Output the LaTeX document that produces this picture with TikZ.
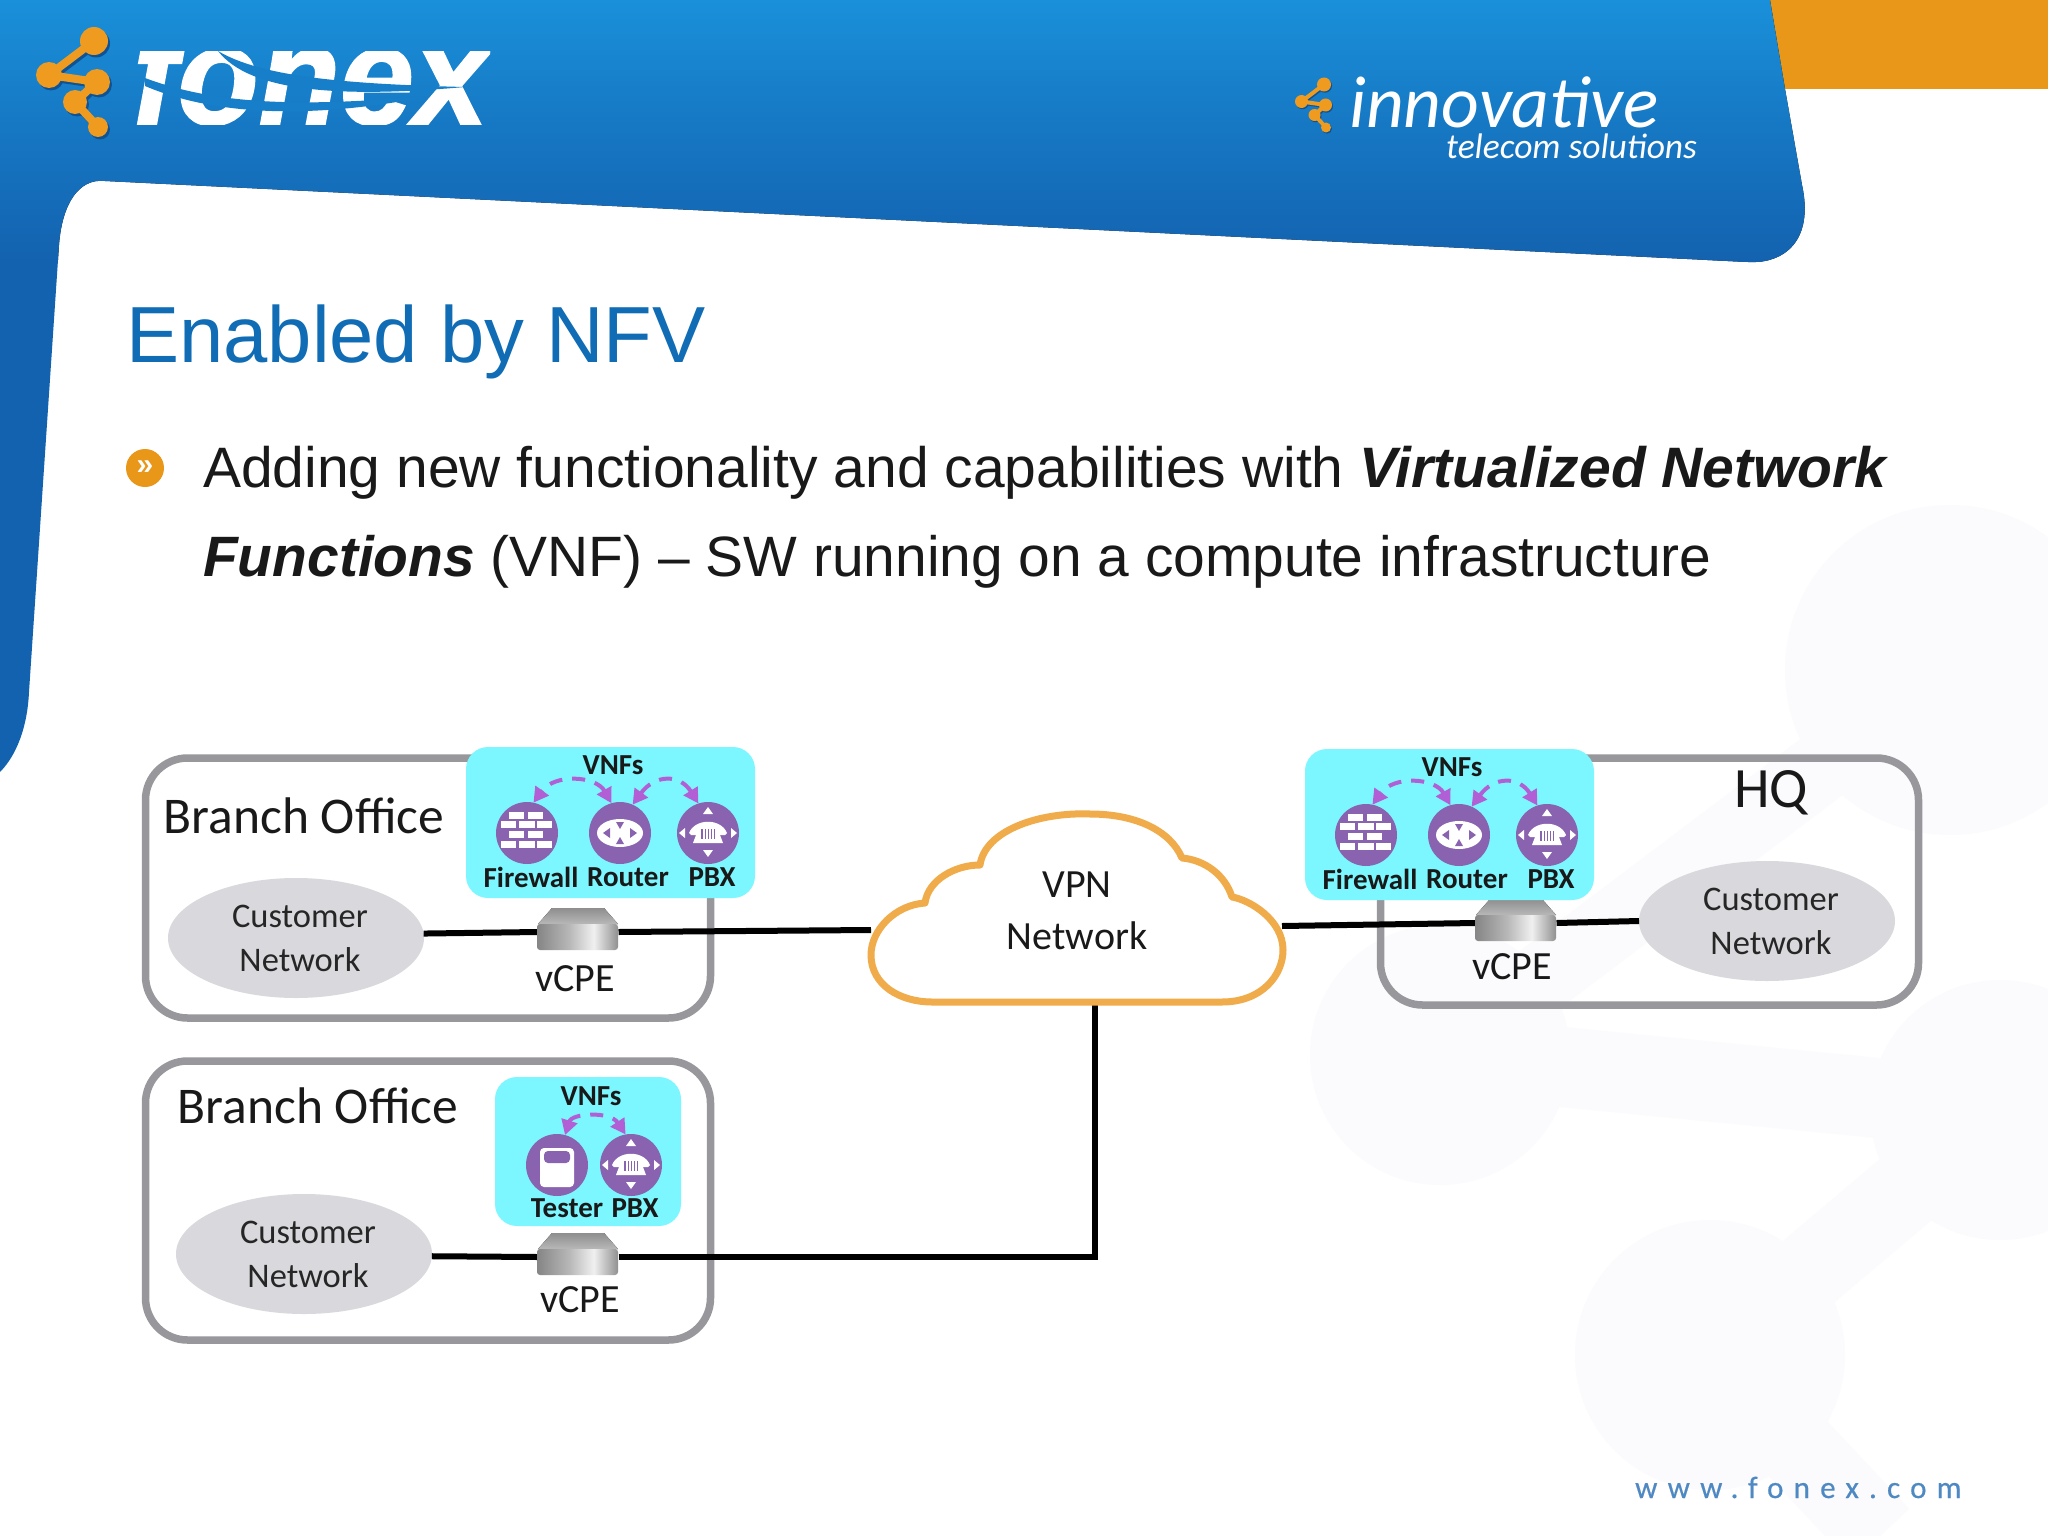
\documentclass[tikz,border=0pt]{standalone}
\usepackage{fontspec}
\setmainfont{Carlito}
\newfontfamily\arialf{Liberation Sans}
\usetikzlibrary{shapes.geometric,arrows.meta}
\definecolor{blueA}{HTML}{1A90DA}
\definecolor{blueB}{HTML}{1362AF}
\definecolor{orangeA}{HTML}{E99719}
\definecolor{logoO}{HTML}{EE9B20}
\definecolor{boxgray}{HTML}{98989C}
\definecolor{cyanbox}{HTML}{7CF7FF}
\definecolor{icon}{HTML}{8A63B0}
\definecolor{arrowp}{HTML}{B25FD6}
\definecolor{custgray}{HTML}{D9D8DC}
\definecolor{cloudO}{HTML}{F0AC4A}
\definecolor{titleblue}{HTML}{0F6CB5}
\definecolor{wm}{HTML}{FBFAFC}
\definecolor{devtopA}{HTML}{8E8E8E}
\definecolor{devtopB}{HTML}{B8B8B8}
\definecolor{devA}{HTML}{858585}
\definecolor{devB}{HTML}{B8B8B8}
\definecolor{devC}{HTML}{F0F0F0}
\definecolor{devD}{HTML}{909090}
\pgfdeclarehorizontalshading{devbody}{100bp}{color(0bp)=(devA); color(25bp)=(devA); color(45bp)=(devB); color(60bp)=(devC); color(75bp)=(devD); color(100bp)=(devD)}
\tikzset{
  officebox/.style={draw=boxgray,line width=7.5pt,rounded corners=42pt,inner sep=0pt,outer sep=0pt},
  vnfbox/.style={fill=cyanbox,rounded corners=22pt,inner sep=0pt,outer sep=0pt},
  custnet/.style={ellipse,fill=custgray,minimum width=256pt,minimum height=120pt,inner sep=0pt,outer sep=0pt,align=center,font=\fontsize{34.5}{44}\selectfont,text=black!85},
  iconc/.style={circle,fill=icon,minimum size=62pt,inner sep=0pt,outer sep=0pt},
  vnftext/.style={font=\bfseries\fontsize{29}{29}\selectfont,text=black!90,inner sep=0pt},
  lab/.style={font=\fontsize{40}{40}\selectfont,text=black!90,inner sep=0pt},
  blab/.style={font=\fontsize{51.5}{51.5}\selectfont,text=black!90,inner sep=0pt},
  wire/.style={line width=6pt,draw=black},
  vnfarrow/.style={draw=arrowp,line width=4pt,dash pattern=on 13pt off 10pt,{Triangle[length=15pt,width=16pt]}-{Triangle[length=15pt,width=16pt]}},
  devnode/.style={minimum width=81pt,minimum height=10pt,inner sep=0pt,outer sep=0pt}
}
\newcommand\device[2]{%
  \fill[top color=devtopA,bottom color=devtopB] (#1-40,#2-8) -- (#1-26,#2-24) -- (#1+26,#2-24) -- (#1+40,#2-8) -- cycle;
  \shade[shading=devbody,rounded corners=3pt] (#1-41,#2-8) rectangle (#1+40,#2+18);
}
\newcommand\fwicon[2]{\begin{scope}[shift={(#1,#2)},white]
  \foreach \yy in {-21,-2}{\fill (-18,\yy) rectangle (-3,\yy+7); \fill (1,\yy) rectangle (16,\yy+7);}
  \foreach \yy in {-12,8}{\fill (-26,\yy) rectangle (-11,\yy+7); \fill (-8,\yy) rectangle (8,\yy+7); \fill (10,\yy) rectangle (25,\yy+7);}
\end{scope}}
\newcommand\rticon[2]{\begin{scope}[shift={(#1,#2)}]
  \fill[white] (0,0) ellipse [x radius=23,y radius=14];
  \fill[icon] (-17,0) -- (-10,-5) -- (-10,5) -- cycle;
  \fill[icon] (17,0) -- (10,-5) -- (10,5) -- cycle;
  \fill[icon] (-4,-11) -- (4,-11) -- (0,-4) -- cycle;
  \fill[icon] (-4,11) -- (4,11) -- (0,4) -- cycle;
\end{scope}}
\newcommand\pbxicon[2]{\begin{scope}[shift={(#1,#2)}]
  \fill[white] (-19,0) .. controls (-13,-15) and (13,-15) .. (19,0) -- (17,2) -- (10,2) -- (9,-4) -- (-9,-4) -- (-10,2) -- (-17,2) -- cycle;
  \fill[white] (-9,-6) -- (9,-6) -- (15,10) -- (-15,10) -- cycle;
  \fill[icon] (-7,-4) rectangle (7,6);
  \foreach \xx in {-5,-2,1,4}{\fill[white] (\xx,-4) rectangle (\xx+1.5,6);}
  \fill[white] (0,-26) -- (-5,-19) -- (5,-19) -- cycle;
  \fill[white] (0,24) -- (-5,17) -- (5,17) -- cycle;
  \fill[white] (-29,0) -- (-23,-5) -- (-23,5) -- cycle;
  \fill[white] (29,0) -- (23,-5) -- (23,5) -- cycle;
\end{scope}}
\newcommand\testicon[2]{\begin{scope}[shift={(#1,#2)}]
  \fill[white,rounded corners=4pt] (-17,-17) rectangle (17,22);
  \fill[icon,rounded corners=4pt] (-13,-14) rectangle (13,-2);
\end{scope}}
\newcommand\threevnf[3]{\begin{scope}[shift={(#2,#3)}]
  \node[vnfbox,minimum width=289pt,minimum height=151pt] (#1box) at (610.5,822.5) {};
  \node[vnftext] (#1t) at (613,765) {VNFs};
  \node[iconc] (#1fw) at (527,833) {};
  \node[iconc] (#1rt) at (620,833) {};
  \node[iconc] (#1pb) at (708,833) {};
  \fwicon{527}{833}\rticon{620}{833}\pbxicon{708}{833}
  \node[vnftext] (#1l1) at (531,877) {Firewall};
  \node[vnftext] (#1l2) at (628,877) {Router};
  \node[vnftext] (#1l3) at (712,877) {PBX};
  \draw[vnfarrow] (#1rt.106) .. controls (596,776) and (555,773) .. (#1fw.78);
  \draw[vnfarrow] (#1rt.66) .. controls (655,774) and (680,774) .. (#1pb.108);
\end{scope}}
\newcommand\flogo[4]{\begin{scope}[shift={(#1,#2)},scale=#3]
  \begin{scope}[shift={(2,2.5)},#4]
  \draw[line width=#3*8pt] (94,41) -- (49,75) -- (97,82) -- (75,102) -- (98,127);
  \fill (94,41) circle (14); \fill (49,75) circle (13); \fill (97,82) circle (13); \fill (75,102) circle (12); \fill (98,127) circle (10);
  \end{scope}
  \begin{scope}[logoO]
  \draw[line width=#3*8pt,logoO] (94,41) -- (49,75) -- (97,82) -- (75,102) -- (98,127);
  \fill (94,41) circle (14); \fill (49,75) circle (13); \fill (97,82) circle (13); \fill (75,102) circle (12); \fill (98,127) circle (10);
  \end{scope}
\end{scope}}
\newcommand\custtext{\hspace*{8pt}Customer\\\hspace*{8pt}Network}
\begin{document}
\begin{tikzpicture}[x=1pt,y=-1pt]
\useasboundingbox (0,0) rectangle (2048,1536);
\fill[white] (0,0) rectangle (2048,1536);
% watermark
\begin{scope}
  \fill[wm] (1950,670) circle (165);
  \fill[wm] (1440,1055) circle (130);
  \fill[wm] (2000,1110) circle (130);
  \fill[wm] (1710,1355) circle (135);
  \draw[line width=80pt,wm] (1440,1055) -- (2000,1110) -- (1710,1355) -- (1880,1536);
  \draw[line width=70pt,wm] (1950,670) -- (1440,1055);
\end{scope}
% header
\fill[orangeA] (1760,0) rectangle (2048,89);
\begin{scope}
  \clip (0,0) -- (1770,0) -- (1785,89) -- (1802,185) .. controls (1814,240) and (1785,264) .. (1748,262) -- (105,181) .. controls (78,178) and (62,205) .. (59,245) -- (29,692) .. controls (27,735) and (12,760) .. (0,772) -- cycle;
  \fill[top color=blueA,bottom color=blueB,middle color=blueA!45!blueB] (0,0) rectangle (2048,262);
  \fill[blueB] (0,260) rectangle (2048,800);
\end{scope}
% logo
\flogo{0}{0}{1}{blueB!85!black}
\begin{scope}
  \clip (130,52) rectangle (490,125);
  \node[anchor=base west,inner sep=0pt,text=white,font=\arialf\bfseries\itshape\fontsize{140}{140}\selectfont\addfontfeatures{FakeBold=1.5},xscale=.95] (fonex) at (133,124) {fonex};
  \fill[blueA!60!blueB] (145,78) .. controls (230,110) and (330,104) .. (430,96) .. controls (340,114) and (230,122) .. (145,86) -- cycle;
  \fill[blueA!60!blueB] (218,51) .. controls (260,76) and (340,84) .. (465,87) .. controls (340,98) and (250,92) .. (218,51) -- cycle;
\end{scope}
\flogo{1277}{64}{.5}{blueB!85!black}
\node[anchor=base west,inner sep=0pt,text=white,font=\itshape\fontsize{73.5}{73.5}\selectfont] (innov) at (1349,128) {innovative};
\node[anchor=base west,inner sep=0pt,text=white,font=\itshape\fontsize{35.5}{35.5}\selectfont] (telecom) at (1446,158) {telecom solutions};
% title and text
\node[anchor=base west,inner sep=0pt,text=titleblue,font=\arialf\fontsize{79.6}{79.6}\selectfont] (title) at (126,362) {Enabled by NFV};
\node[circle,fill=orangeA,minimum size=38pt,inner sep=0pt,text=white,font=\arialf\bfseries\fontsize{30}{30}\selectfont] (bullet) at (145,468) {»};
\node[anchor=base west,inner sep=0pt,font=\arialf\fontsize{57}{57}\selectfont,text=black!90] (line1) at (203,487) {Adding new functionality and capabilities with {\bfseries\itshape Virtualized Network}};
\node[anchor=base west,inner sep=0pt,font=\arialf\fontsize{56.9}{56.9}\selectfont,text=black!90] (line2) at (203,576) {{\bfseries\itshape Functions} (VNF) – SW running on a compute infrastructure};
% office boxes
\node[officebox,minimum width=565pt,minimum height=260pt] (office1) at (428,888) {};
\node[officebox,minimum width=565pt,minimum height=279pt] (office2) at (428,1200.5) {};
\node[officebox,minimum width=538pt,minimum height=247pt] (hq) at (1649.5,881.5) {};
% customer networks
\node[custnet] (c1) at (296,938) {\custtext};
\node[custnet] (c2) at (304,1254) {\custtext};
\node[custnet] (c3) at (1767,921) {\custtext};
% connectors
\coordinate (cl) at (871,930);
\coordinate (cr) at (1282,926);
\coordinate (cb) at (1095,1002);
\node[devnode] (v1) at (578,932) {};
\node[devnode] (v2) at (578,1257) {};
\node[devnode] (v3) at (1516,923) {};
\coordinate (bend) at (v2.east -| cb);
\draw[wire] (c1.2) -- (v1.west);
\draw[wire] (v1.east) -- (cl);
\draw[wire] (c2.-1.5) -- (v2.west);
\draw[wire] (v2.east) -- (bend) -- (cb);
\draw[wire] (cr) -- (v3.west);
\draw[wire] (v3.east) -- (c3.west);
\device{578}{932}
\device{578}{1257}
\device{1516}{923}
% cloud
\draw[cloudO,line width=7pt,fill=white,line join=round] (932,1002) -- (1222,1002) .. controls (1262,1002) and (1283,975) .. (1283,950) .. controls (1283,920) and (1250,900) .. (1232,897) .. controls (1225,875) and (1205,860) .. (1182,858) .. controls (1170,830) and (1135,814) .. (1090,814) .. controls (1040,812) and (985,830) .. (980,865) .. controls (955,865) and (928,880) .. (925,903) .. controls (895,905) and (871,930) .. (871,955) .. controls (871,985) and (900,1002) .. (932,1002) -- cycle;
\node[inner sep=0pt,align=center,font=\fontsize{40}{52}\selectfont,text=black!90] (vpn) at (1077,911) {VPN\\Network};
% VNF boxes
\threevnf{a}{0}{0}
\threevnf{b}{839}{2}
\node[vnfbox,minimum width=186pt,minimum height=149pt] (cbox) at (588,1151.5) {};
\node[vnftext] (ct) at (591,1096) {VNFs};
\node[iconc] (cte) at (557,1165) {};
\node[iconc] (cpb) at (631,1165) {};
\testicon{557}{1165}\pbxicon{631}{1165}
\node[vnftext] (cl1) at (567,1208) {Tester};
\node[vnftext] (cl2) at (635,1208) {PBX};
\draw[vnfarrow] (cte.75) .. controls (572,1113) and (610,1111) .. (cpb.100);
% labels
\node[blab] (bo1) at (304,816) {Branch Office};
\node[blab] (bo2) at (318,1106) {Branch Office};
\node[blab,font=\fontsize{57}{57}\selectfont] (hqt) at (1771,793) {HQ};
\node[lab] (l1) at (575,979) {vCPE};
\node[lab] (l2) at (580,1300) {vCPE};
\node[lab] (l3) at (1512,967) {vCPE};
\node[anchor=base west,inner sep=0pt,text=blueB!75!white,font=\fontsize{31}{31}\selectfont\addfontfeatures{LetterSpace=33,FakeBold=0.5}] (www) at (1635,1498) {www.fonex.com};
\end{tikzpicture}
\end{document}
